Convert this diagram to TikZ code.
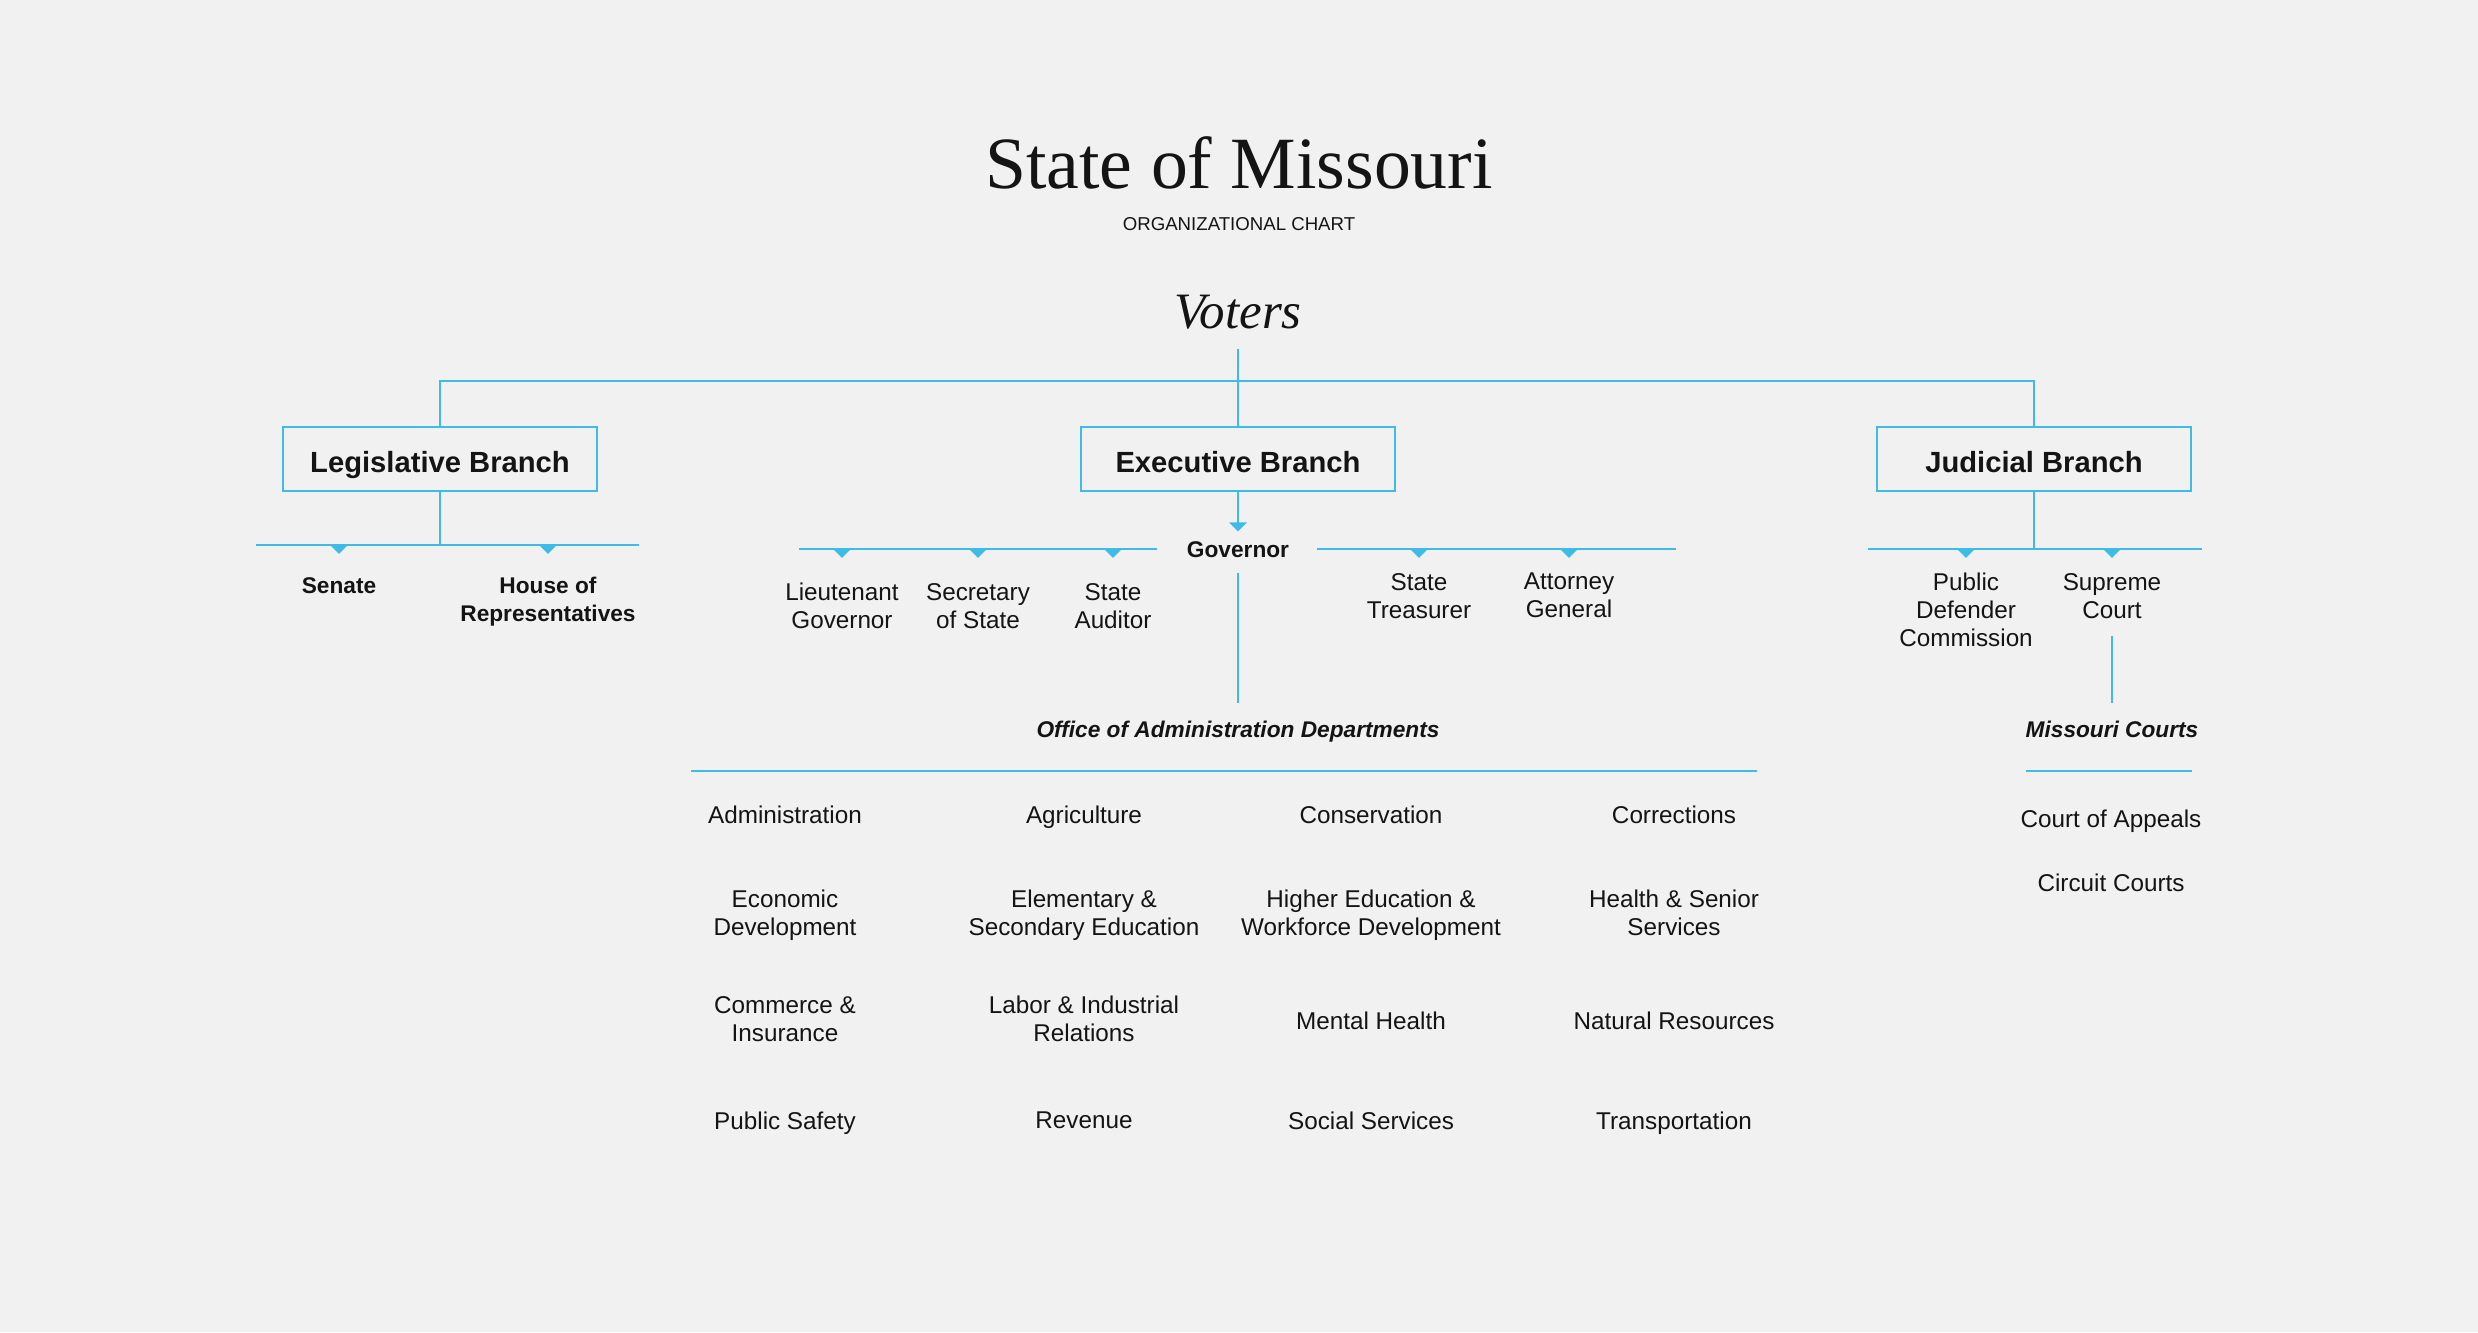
\documentclass[tikz,border=0pt]{standalone}
\usepackage{fontspec}
\setmainfont{Liberation Sans}
\newfontfamily\ttlserif{Liberation Serif}
\usetikzlibrary{arrows.meta}
\definecolor{skyline}{RGB}{62,188,230}
\definecolor{paper}{RGB}{241,241,241}
\definecolor{ink}{RGB}{20,20,20}
\begin{document}
\begin{tikzpicture}[x=0.01cm, y=-0.01cm,
    every node/.style={text=ink},
    conn/.style={draw=skyline, line width=0.025cm},
    droptip/.style={draw=skyline, line width=0.025cm, -{Triangle[width=0.17cm,length=0.09cm]}},
    branch/.style={draw=skyline, line width=0.025cm, minimum width=3.14cm, minimum height=0.64cm,
        inner sep=0pt, text height=0.26cm, text depth=0pt, font=\fontsize{8.3}{10}\selectfont\bfseries},
    item/.style={inner sep=0pt, anchor=north, align=center, font=\fontsize{6.9}{7.97}\selectfont},
    bolditem/.style={item, font=\fontsize{6.45}{7.97}\selectfont\bfseries},
    head/.style={inner sep=0pt, anchor=base, font=\fontsize{6.45}{7.97}\selectfont\bfseries\itshape}]
    \fill[paper] (0,0) rectangle (2478,1332);
    \useasboundingbox (0,0) rectangle (2478,1332);

    \node[anchor=base, inner sep=0pt, font=\ttlserif\fontsize{20.95}{24}\selectfont] (title) at (1239,188) {State of Missouri};
    \node[anchor=base, inner sep=0pt, font=\fontsize{5.3}{6}\selectfont] (subtitle) at (1239,230) {ORGANIZATIONAL CHART};
    \node[anchor=base, inner sep=0pt, font=\ttlserif\itshape\fontsize{14.5}{17}\selectfont] (voters) at (1238,328) {Voters};

    \node[branch] (leg) at (440,459) {Legislative Branch};
    \node[branch] (exec) at (1238,459) {Executive Branch};
    \node[branch] (jud) at (2034,459) {Judicial Branch};

        \coordinate (vbar) at (1238,381);
        \draw[conn, shorten <=0.19cm] (voters.south) to (exec.north);
        \draw[conn] (leg.north) -- (leg.north |- vbar) -- (jud.north |- vbar) -- (jud.north);

    \node[bolditem] (senate) at (339,576.5) {Senate};
    \node[bolditem] (house) at (548,576.5) {House of\\Representatives};
        \coordinate (lbarl) at (256,545);
        \coordinate (lbarr) at (639,545);
        \draw[conn] (lbarl) to (lbarr);
        \draw[conn] (leg.south) to (leg.south |- lbarl);
            \draw[droptip] (senate.north |- lbarl) -- ++(0,9);
            \draw[droptip] (house.north |- lbarl) -- ++(0,9);

    \node[bolditem, anchor=base] (gov) at (1238,557) {Governor};
        \draw[droptip, shorten >=0.09cm] (exec.south) to (gov.north);
        \coordinate (gbarl) at (799,549);
        \coordinate (gbarr) at (1676,549);
        \draw[conn] (gbarl) to ([xshift=-0.29cm]gov.west |- gbarl);
        \draw[conn] ([xshift=0.27cm]gov.east |- gbarr) to (gbarr);

    \node[item] (ltgov) at (842,582.5) {Lieutenant\\Governor};
    \node[item] (secstate) at (978,582.5) {Secretary\\of State};
    \node[item] (auditor) at (1113,582.5) {State\\Auditor};
    \node[item] (treasurer) at (1419,572.5) {State\\Treasurer};
    \node[item] (attorney) at (1569,572.5) {Attorney\\General};
            \draw[droptip] (ltgov.north |- gbarl) -- ++(0,9);
            \draw[droptip] (secstate.north |- gbarl) -- ++(0,9);
            \draw[droptip] (auditor.north |- gbarl) -- ++(0,9);
            \draw[droptip] (treasurer.north |- gbarr) -- ++(0,9);
            \draw[droptip] (attorney.north |- gbarr) -- ++(0,9);

    \node[head] (office) at (1238,737) {Office of Administration Departments};
        \draw[conn, shorten <=0.15cm, shorten >=0.17cm] (gov.south) to (office.north);
        \coordinate (dbarl) at (691,771);
        \coordinate (dbarr) at (1757,771);
        \draw[conn] (dbarl) to (dbarr);

    \node[item] (admin) at (785,805.5) {Administration};
    \node[item] (agri) at (1084,805.5) {Agriculture};
    \node[item] (cons) at (1371,805.5) {Conservation};
    \node[item] (corr) at (1674,805.5) {Corrections};

    \node[item] (econ) at (785,889.5) {Economic\\Development};
    \node[item] (elem) at (1084,889.5) {Elementary \&\\Secondary Education};
    \node[item] (higher) at (1371,889.5) {Higher Education \&\\Workforce Development};
    \node[item] (health) at (1674,889.5) {Health \& Senior\\Services};

    \node[item] (commerce) at (785,995.5) {Commerce \&\\Insurance};
    \node[item] (labor) at (1084,995.5) {Labor \& Industrial\\Relations};
    \node[item] (mental) at (1371,1011.5) {Mental Health};
    \node[item] (natres) at (1674,1011.5) {Natural Resources};

    \node[item] (safety) at (785,1111.5) {Public Safety};
    \node[item] (revenue) at (1084,1111.5) {Revenue};
    \node[item] (social) at (1371,1111.5) {Social Services};
    \node[item] (transport) at (1674,1111.5) {Transportation};

    \node[item] (defender) at (1966,572.5) {Public\\Defender\\Commission};
    \node[item] (supreme) at (2112,572.5) {Supreme\\Court};
        \coordinate (jbarl) at (1868,549);
        \coordinate (jbarr) at (2202,549);
        \draw[conn] (jbarl) to (jbarr);
        \draw[conn] (jud.south) to (jud.south |- jbarl);
            \draw[droptip] (defender.north |- jbarl) -- ++(0,9);
            \draw[droptip] (supreme.north |- jbarl) -- ++(0,9);

    \node[head] (mocourts) at (2112,737) {Missouri Courts};
        \draw[conn, shorten <=0.17cm, shorten >=0.17cm] (supreme.south) to (mocourts.north);
        \coordinate (mbarl) at (2026,771);
        \coordinate (mbarr) at (2192,771);
        \draw[conn] (mbarl) to (mbarr);

    \node[item] (appeals) at (2111,809.5) {Court of Appeals};
    \node[item] (circuit) at (2111,873.5) {Circuit Courts};
\end{tikzpicture}
\end{document}
